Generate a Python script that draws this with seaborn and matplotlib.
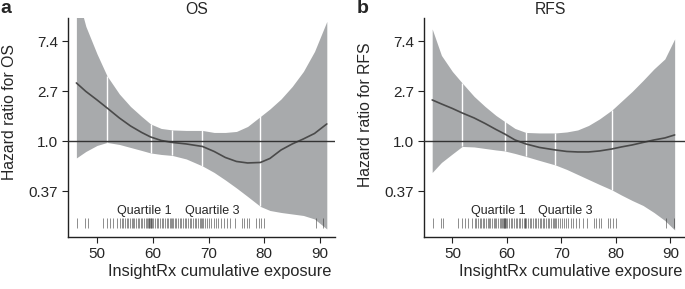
import numpy as np
import pandas as pd
import matplotlib.pyplot as plt
import seaborn as sns

exposure_os = [46.3, 48, 50, 51.8, 54, 56, 58, 59.6, 61.5, 63.5, 66, 68.9,
               71, 73, 75, 77, 79.3, 81, 83, 85, 87, 89, 91.2]
exposure_rfs = [46.3, 48, 50, 51.8, 54, 56, 58, 59.6, 61.5, 63.5, 66, 68.9,
                71, 73, 75, 77, 79.3, 81, 83, 85, 87, 89, 90.8]

# log hazard ratio, OS
loghr_os = [1.17, 1.0, 0.83, 0.67, 0.47, 0.31, 0.18, 0.09, 0.02, -0.02, -0.05, -0.1,
            -0.2, -0.32, -0.4, -0.43, -0.42, -0.34, -0.17, -0.05, 0.05, 0.16, 0.35]
upper_os = [3.0, 2.3, 1.75, 1.31, 0.95, 0.7, 0.5, 0.35, 0.26, 0.23, 0.22, 0.22,
            0.18, 0.18, 0.2, 0.3, 0.5, 0.65, 0.85, 1.1, 1.4, 1.8, 2.4]
lower_os = [-0.33, -0.2, -0.08, -0.02, -0.06, -0.12, -0.18, -0.23, -0.26, -0.28, -0.35, -0.49,
            -0.62, -0.77, -0.93, -1.1, -1.3, -1.38, -1.42, -1.45, -1.48, -1.55, -1.75]

# log hazard ratio, RFS
loghr_rfs = [0.83, 0.75, 0.66, 0.57, 0.47, 0.36, 0.24, 0.15, 0.03, -0.05, -0.12, -0.17,
             -0.2, -0.21, -0.21, -0.19, -0.15, -0.11, -0.07, -0.02, 0.03, 0.07, 0.13]
upper_rfs = [2.25, 1.72, 1.4, 1.17, 0.9, 0.7, 0.52, 0.4, 0.26, 0.18, 0.17, 0.17,
             0.19, 0.23, 0.32, 0.45, 0.63, 0.8, 1.0, 1.22, 1.45, 1.65, 2.05]
lower_rfs = [-0.62, -0.42, -0.25, -0.1, -0.11, -0.14, -0.17, -0.19, -0.24, -0.3, -0.38, -0.47,
             -0.56, -0.66, -0.76, -0.86, -0.97, -1.07, -1.18, -1.28, -1.42, -1.58, -1.77]

# white dividers in the band
quantiles = [51.8, 59.6, 63.5, 68.9, 79.3]
quartile_labels = ["Quartile 1", "Quartile 3"]
quartile_label_x = [58.4, 70.7]

# observed exposures (rug)
rug = [46.4, 47.9, 48.3, 51.1, 51.7, 52.3, 52.9, 53.6, 54.1, 54.4, 54.7, 55.0, 55.3, 55.6,
       55.9, 56.2, 56.5, 56.7, 57.0, 57.3, 57.6, 57.9, 58.1, 58.4, 58.7, 58.9, 59.1, 59.3,
       59.4, 59.5, 59.6, 59.7, 59.9, 60.1, 60.4, 60.7, 61.0, 61.3, 61.6, 61.9, 62.2, 62.5,
       62.8, 63.1, 63.3, 63.4, 63.6, 63.9, 64.2, 64.5, 64.8, 65.1, 65.4, 65.7, 66.0, 66.3,
       66.6, 66.9, 67.2, 67.5, 67.8, 68.1, 68.4, 68.6, 68.8, 69.0, 69.3, 69.7, 70.1, 70.5,
       70.9, 71.3, 71.7, 72.2, 72.7, 73.3, 73.9, 74.8, 76.0, 76.4, 76.9, 77.3, 78.5, 79.0,
       79.4, 80.0, 89.3, 90.6]

yticks = [-1, 0, 1, 2]
ytick_labels = ["0.37", "1.0", "2.7", "7.4"]
xticks = [50, 60, 70, 80, 90]

sns.set_theme(style="ticks")
plt.rcParams['font.family'] = ['Liberation Sans', 'DejaVu Sans']

band_col = "#a8aaac"
line_col = "#4a4a4a"

fig = plt.figure(figsize=(6.85, 2.89), dpi=100)
ax_a = fig.add_axes([0.0993, 0.18, 0.39, 0.758])
ax_b = fig.add_axes([0.619, 0.18, 0.381, 0.758])

panels = [
    (ax_a, "OS", exposure_os, loghr_os, upper_os, lower_os, 0.566, -0.19, 0.571),
    (ax_b, "RFS", exposure_rfs, loghr_rfs, upper_rfs, lower_rfs, 0.562, -0.195, 0.559),
]

for ax, name, x, mid, up, lo, xl_x, yl_x, yl_y in panels:
    x = np.array(x)
    up_hr = np.exp(up)
    lo_hr = np.exp(lo)
    ax.set_yscale("log")
    ax.fill_between(x, lo_hr, up_hr, color=band_col, linewidth=0, zorder=1)
    for q in quantiles:
        ax.vlines(q, np.interp(q, x, lo_hr), np.interp(q, x, up_hr),
                  color="white", linewidth=1.0, zorder=2)
    df = pd.DataFrame({"exposure": x, "hr": np.exp(mid)})
    sns.lineplot(data=df, x="exposure", y="hr", ax=ax, color=line_col,
                 linewidth=1.2, zorder=3)
    ax.axhline(1.0, color="#333333", linewidth=1.0, zorder=4)
    ax.vlines(rug, 0.041, 0.087, transform=ax.get_xaxis_transform(),
              color="#333333", linewidth=0.6, alpha=0.65, zorder=5)
    for lab, lx in zip(quartile_labels, quartile_label_x):
        ax.text(lx, 0.12, lab, transform=ax.get_xaxis_transform(),
                ha="center", va="center", fontsize=9)

    ax.set_xlim(44.8, 92.7)
    ax.set_ylim(np.exp(-1.91), np.exp(2.47))
    ax.set_xticks(xticks)
    ax.set_yticks(np.exp(yticks))
    ax.set_yticklabels(ytick_labels)
    ax.minorticks_off()
    ax.tick_params(axis="both", labelsize=11, length=4, width=0.8, color="#222222", pad=3)
    ax.set_xlabel("InsightRx cumulative exposure", fontsize=11.8)
    ax.xaxis.set_label_coords(xl_x, -0.122)
    ax.set_ylabel("Hazard ratio for " + name, fontsize=11.3)
    ax.yaxis.set_label_coords(yl_x, yl_y)
    ax.set_title(name, fontsize=11.3, pad=3, x=0.483)
    sns.despine(ax=ax)
    for s in ["left", "bottom"]:
        ax.spines[s].set_linewidth(1.0)
        ax.spines[s].set_color("#222222")

fig.text(0.0, 1.0, "a", fontsize=14, fontweight="bold", ha="left", va="top")
fig.text(0.521, 1.0, "b", fontsize=14, fontweight="bold", ha="left", va="top")

fig.savefig("out.png", dpi=100)
